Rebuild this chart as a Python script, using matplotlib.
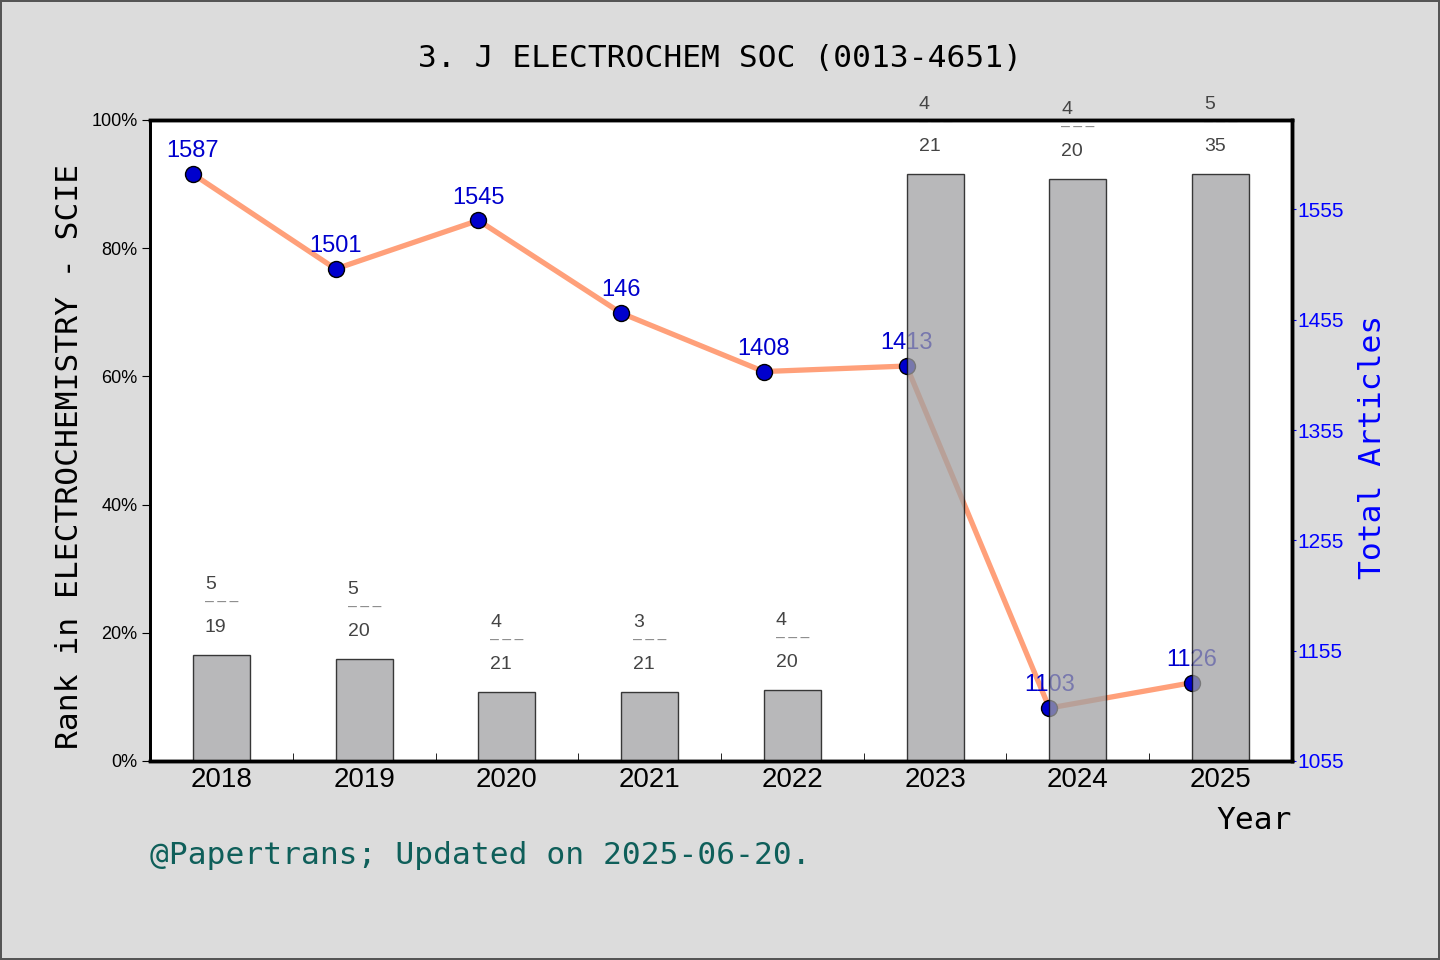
import matplotlib.pyplot as plt
from matplotlib.ticker import FuncFormatter

# data
years = [2018, 2019, 2020, 2021, 2022, 2023, 2024, 2025]
rank_pct = [0.166, 0.159, 0.108, 0.108, 0.110, 0.916, 0.908, 0.916]
rank_num = [5, 5, 4, 3, 4, 4, 4, 5]
rank_total = [19, 20, 21, 21, 20, 21, 20, 35]
articles = [1587, 1501, 1545, 1461, 1408, 1413, 1103, 1126]
article_labels = ['1587', '1501', '1545', '146', '1408', '1413', '1103', '1126']
art_ticks = [1055, 1155, 1255, 1355, 1455, 1555]

mono = 'DejaVu Sans Mono'
sans = 'Liberation Sans'

fig = plt.figure(figsize=(14.4, 9.6), dpi=100)
fig.patch.set_facecolor('#dcdcdc')
fig.patch.set_edgecolor('#555555')
fig.patch.set_linewidth(1.5)

# line axes underneath, bar axes on top (bars cover the line with alpha)
ax_line = fig.add_axes([0.1042, 0.2073, 0.7930, 0.6677])
ax_bar = ax_line.twinx()

ax_line.set_facecolor('white')
ax_bar.patch.set_visible(False)

x_pts = [y - 0.2 for y in years]
ax_line.plot(x_pts, articles, color='#ffa07a', lw=3.8, zorder=2)
ax_line.plot(x_pts, articles, 'o', ms=11.5, mfc='#0000cd', mec='black', mew=1, zorder=3)
for xp, v, lab in zip(x_pts, articles, article_labels):
    ax_line.annotate(lab, (xp, v), xytext=(0, 8.5), textcoords='offset points',
                     ha='center', va='bottom', color='#0000cd', fontsize=17, family=sans)

ax_line.set_xlim(2017.5, 2025.5)
ax_line.set_ylim(1055, 1636)
ax_line.yaxis.tick_right()
ax_line.yaxis.set_label_position('right')
ax_line.set_yticks(art_ticks)
ax_line.tick_params(axis='y', colors='#0000ff', labelsize=15, length=3, direction='out', pad=1)
for t in ax_line.get_yticklabels():
    t.set_family(sans)
ax_line.set_ylabel('Total Articles', color='#0000ff', fontsize=22.5, family=mono)
ax_line.yaxis.set_label_coords(1.058, 0.49)

ax_bar.bar(years, rank_pct, width=0.4, color='#a1a1a3', alpha=0.75, edgecolor='black', lw=1, zorder=1)
for y, h, n, t in zip(years, rank_pct, rank_num, rank_total):
    left = y - 0.2
    ax_bar.annotate(str(t), (left, h), xytext=(8.6, 16.6), textcoords='offset points',
                    ha='left', va='baseline', fontsize=14, family=sans, color='#444444', zorder=2)
    ax_bar.annotate('\u2013\u2009\u2013\u2009\u2013', (left, h), xytext=(8.6, 37.9),
                    textcoords='offset points', ha='left', va='center', fontsize=11.5,
                    family=[sans, 'DejaVu Sans'], color='#8a8a8a', zorder=2)
    ax_bar.annotate(str(n), (left, h), xytext=(8.6, 46.9), textcoords='offset points',
                    ha='left', va='baseline', fontsize=14, family=sans, color='#444444', zorder=2)
ax_bar.set_ylim(0, 1)
ax_bar.yaxis.tick_left()
ax_bar.yaxis.set_label_position('left')
ax_bar.set_yticks([0, 0.2, 0.4, 0.6, 0.8, 1.0])
ax_bar.yaxis.set_major_formatter(FuncFormatter(lambda v, p: f'{v*100:.0f}%'))
ax_bar.tick_params(axis='y', labelsize=13, length=6, direction='out', pad=3)
for t in ax_bar.get_yticklabels():
    t.set_family(sans)
ax_bar.set_ylabel('Rank in ELECTROCHEMISTRY - SCIE', fontsize=22.5, family=mono)
ax_bar.yaxis.set_label_coords(-0.058, 0.475)

ax_line.set_xticks(years)
ax_line.set_xticks([y + 0.5 for y in years[:-1]], minor=True)
ax_line.tick_params(axis='x', which='major', length=0, labelsize=20, pad=4)
ax_line.tick_params(axis='x', which='minor', length=6, direction='in')
for t in ax_line.get_xticklabels():
    t.set_family(sans)
ax_line.set_xlabel('Year', fontsize=22.5, family=mono)
ax_line.xaxis.set_label_coords(1.0, -0.07)
ax_line.xaxis.label.set_horizontalalignment('right')
ax_bar.tick_params(axis='x', bottom=False, labelbottom=False)

for a in (ax_line, ax_bar):
    a.spines['top'].set_linewidth(2.5)
    a.spines['bottom'].set_linewidth(2.5)
    a.spines['left'].set_linewidth(2)
    a.spines['right'].set_linewidth(2.5)

fig.text(0.5, 0.939, '3. J ELECTROCHEM SOC (0013-4651)', ha='center', va='center',
         fontsize=22.5, family=mono)
fig.text(0.104, 0.109, '@Papertrans; Updated on 2025-06-20.', ha='left', va='center',
         fontsize=22.5, family=mono, color='#0f5f5a')

fig.savefig('out.png', dpi=100, facecolor=fig.get_facecolor(), edgecolor=fig.get_edgecolor())
